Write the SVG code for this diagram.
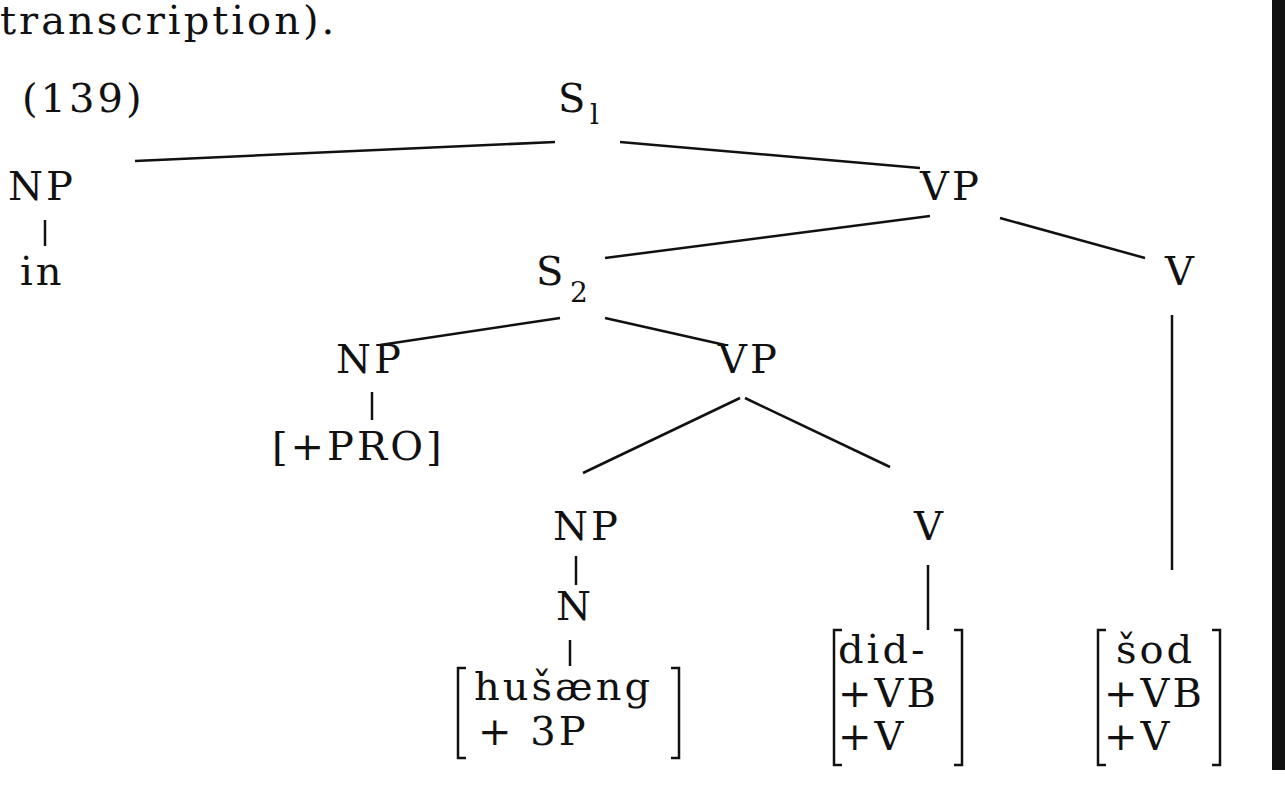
<svg xmlns="http://www.w3.org/2000/svg" width="1285" height="809" viewBox="0 0 1285 809">
<style>
text{font-family:"DejaVu Serif","Liberation Serif",serif;font-size:40px;letter-spacing:3px;fill:#111}
.sub{font-size:28px;letter-spacing:0}
line,path{stroke:#111;stroke-width:2.5;fill:none}
</style>
<rect width="1285" height="809" fill="#fff"/>
<rect x="1272" y="0" width="13" height="770" fill="#111"/>
<text x="0" y="34" font-size="40" letter-spacing="2">transcription).</text>
<text x="22" y="112">(139)</text>
<g id="connectors">
<line x1="135" y1="161" x2="555" y2="142"/>
<line x1="620" y1="142" x2="920" y2="168"/>
<line x1="45" y1="220" x2="45" y2="246"/>
<line x1="605" y1="258" x2="930" y2="216"/>
<line x1="1000" y1="218" x2="1145" y2="258"/>
<line x1="1172" y1="315" x2="1172" y2="570"/>
<line x1="380" y1="345" x2="560" y2="318"/>
<line x1="605" y1="318" x2="725" y2="345"/>
<line x1="372" y1="392" x2="372" y2="420"/>
<line x1="740" y1="398" x2="583" y2="473"/>
<line x1="745" y1="398" x2="890" y2="467"/>
<line x1="576" y1="556" x2="576" y2="585"/>
<line x1="570" y1="640" x2="570" y2="666"/>
<line x1="928" y1="565" x2="928" y2="630"/>
</g>
<g id="S1"><text x="558" y="112">S</text><text class="sub" x="590" y="124">l</text></g>
<g id="NP1"><text x="8" y="200">NP</text></g>
<g id="in"><text x="20" y="285">in</text></g>
<g id="VP1"><text x="920" y="200">VP</text></g>
<g id="S2"><text x="536" y="285">S</text><text class="sub" x="570" y="302">2</text></g>
<g id="V1"><text x="1165" y="285">V</text></g>
<g id="NP2"><text x="336" y="373">NP</text></g>
<g id="PRO"><text x="272" y="460">[+PRO]</text></g>
<g id="VP2"><text x="718" y="373">VP</text></g>
<g id="NP3"><text x="553" y="540">NP</text></g>
<g id="N"><text x="556" y="620">N</text></g>
<g id="V2"><text x="914" y="540">V</text></g>
<g id="husaeng">
<path d="M466,668 H458 V758 H466 M671,668 H679 V758 H671"/>
<text x="474" y="700">hušæng</text><text x="478" y="745">+ 3P</text>
</g>
<g id="did">
<path d="M842,630 H834 V765 H842 M954,630 H962 V765 H954"/>
<text x="838" y="663">did-</text><text x="838" y="707">+VB</text><text x="838" y="750">+V</text>
</g>
<g id="sod">
<path d="M1106,630 H1098 V765 H1106 M1212,630 H1220 V765 H1212"/>
<text x="1116" y="663">šod</text><text x="1104" y="707">+VB</text><text x="1104" y="750">+V</text>
</g>
</svg>
